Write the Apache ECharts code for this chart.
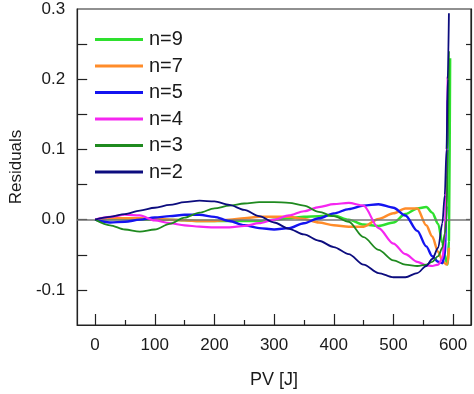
<!DOCTYPE html>
<html>
<head>
<meta charset="utf-8">
<script src="https://cdn.jsdelivr.net/npm/echarts@6/dist/echarts.min.js"></script>
<style>
html,body{margin:0;padding:0;background:#fff;}
#c{width:474px;height:394px;}
</style>
</head>
<body>
<div id="c"></div>
<script>
// PV [J] sample positions shared by all series
const xs = [0,25,50,75,100,125,150,175,200,225,250,275,300,325,350,375,400,425,450,475,500,520,540,555,565,575,582,586,589,591,593,595];
// Residuals per model order
const n9 = [0,0.001,0.001,0,0,0,-0.001,-0.002,-0.002,-0.002,-0.002,-0.002,0,0.002,0.004,0.005,0.006,0,-0.007,-0.009,-0.004,0.008,0.016,0.018,0.010,-0.006,-0.033,-0.050,-0.060,-0.064,-0.030,0.230];
const n7 = [0,0.002,0.002,0.002,0.001,0,-0.001,-0.002,-0.002,0,0.002,0.004,0.004,0.004,0.001,-0.004,-0.008,-0.010,-0.010,0.001,0.009,0.016,0.016,-0.008,-0.024,-0.046,-0.058,-0.062,-0.064,-0.062,-0.040];
const n5 = [0,-0.004,-0.003,0,0.003,0.005,0.007,0.007,0.004,-0.002,-0.008,-0.012,-0.014,-0.012,-0.005,0.002,0.009,0.015,0.020,0.022,0.017,0.006,-0.016,-0.038,-0.052,-0.060,-0.062,-0.050,0.020,0.170];
const n4 = [0,0.004,0.007,0.006,-0.001,-0.005,-0.008,-0.010,-0.011,-0.011,-0.009,-0.005,0,0.006,0.012,0.018,0.022,0.024,0.020,-0.012,-0.034,-0.049,-0.060,-0.065,-0.066,-0.064,-0.055,-0.030,0.060,0.204];
const n3 = [0,-0.008,-0.014,-0.017,-0.014,-0.006,0.003,0.010,0.016,0.020,0.023,0.025,0.025,0.024,0.020,0.011,0.005,-0.003,-0.025,-0.043,-0.058,-0.064,-0.066,-0.064,-0.060,-0.052,-0.040,-0.020,0,0.100,0.240];
const n2 = [0,0.004,0.008,0.013,0.017,0.021,0.025,0.027,0.026,0.021,0.014,0.005,-0.004,-0.013,-0.021,-0.030,-0.039,-0.049,-0.064,-0.076,-0.082,-0.082,-0.076,-0.066,-0.056,-0.040,-0.005,0.035,0.100,0.200,0.294];

const seriesNames = ['n=9','n=7','n=5','n=4','n=3','n=2'];
const seriesData = [n9,n7,n5,n4,n3,n2];
const seriesColors = ['#2ee02e','#ff8c2a','#1414f0','#f526f0','#1f8a1f','#0c0c7e'];
const seriesWidths = [2.5,2.5,2.4,2.2,1.8,1.8];

const xMajor = [0,100,200,300,400,500,600];
const xMinor = [50,150,250,350,450,550];
const yTicks = [-0.1,-0.05,0,0.05,0.1,0.15,0.2,0.25];
const yLabels = [-0.1,0,0.1,0.2,0.3];

const font = 'Liberation Sans, Arial, sans-serif';
const ink = '#1a1a1a';

const chart = echarts.init(document.getElementById('c'), null, {renderer:'canvas'});

const series = seriesNames.map((name,i)=>({
  name: name,
  type: 'line',
  xAxisIndex: 0,
  yAxisIndex: 0,
  data: seriesData[i].map((y,k)=>[xs[k], y]),
  showSymbol: false,
  symbol: 'none',
  smooth: 0.3,
  smoothMonotone: 'x',
  color: seriesColors[i],
  lineStyle: {color: seriesColors[i], width: seriesWidths[i]},
  z: 3 + i
}));
series.unshift({
  name: 'zero',
  type: 'line',
  data: [],
  silent: true,
  markLine: {
    silent: true,
    symbol: 'none',
    label: {show: false},
    lineStyle: {color: '#777', width: 1.5, type: 'solid'},
    data: [{yAxis: 0}]
  },
  z: 2
});

chart.setOption({
  animation: false,
  backgroundColor: '#fff',
  grid: {left: 65, right: 3, top: 9, bottom: 66, show: true, borderColor: '#222', borderWidth: 1.2, backgroundColor: 'transparent'},
  legend: {
    data: seriesNames,
    orient: 'vertical',
    left: 95,
    top: 28,
    padding: 0,
    itemWidth: 48,
    itemHeight: 3,
    itemGap: 3.5,
    icon: 'rect',
    textStyle: {fontFamily: font, fontSize: 20, color: ink, lineHeight: 23, padding: [0,0,0,1]}
  },
  xAxis: [{
    type: 'value', min: -30, max: 630, position: 'bottom',
    name: 'PV [J]', nameLocation: 'middle', nameGap: 46,
    nameTextStyle: {fontFamily: font, fontSize: 18, color: ink},
    axisLine: {show: true, onZero: false, lineStyle: {color: '#222', width: 1.2}},
    axisTick: {show: true, inside: true, length: 11, customValues: xMajor, lineStyle: {color: '#222', width: 1.2}},
    axisLabel: {show: true, customValues: xMajor, margin: 12, fontFamily: font, fontSize: 17, color: ink},
    splitLine: {show: false}
  },{
    type: 'value', min: -30, max: 630, position: 'bottom',
    axisLine: {show: false, onZero: false},
    axisTick: {show: true, inside: true, length: 5, customValues: xMinor, lineStyle: {color: '#222', width: 1.2}},
    axisLabel: {show: false},
    splitLine: {show: false}
  }],
  yAxis: [{
    type: 'value', min: -0.15, max: 0.3, position: 'left',
    name: 'Residuals', nameLocation: 'middle', nameGap: 49,
    nameTextStyle: {fontFamily: font, fontSize: 17, color: ink},
    axisLine: {show: true, onZero: false, lineStyle: {color: '#222', width: 1.2}},
    axisTick: {show: true, inside: true, length: 10, customValues: yTicks, lineStyle: {color: '#222', width: 1.2}},
    axisLabel: {show: true, customValues: yLabels, margin: 12, fontFamily: font, fontSize: 17, color: ink,
      formatter: v => Number(v).toFixed(1)},
    splitLine: {show: false}
  },{
    type: 'value', min: -0.15, max: 0.3, position: 'right',
    axisLine: {show: true, onZero: false, lineStyle: {color: '#222', width: 1.2}},
    axisTick: {show: true, inside: true, length: 5, customValues: yTicks, lineStyle: {color: '#222', width: 1.2}},
    axisLabel: {show: false},
    splitLine: {show: false}
  }],
  series: series
});
</script>
</body>
</html>
